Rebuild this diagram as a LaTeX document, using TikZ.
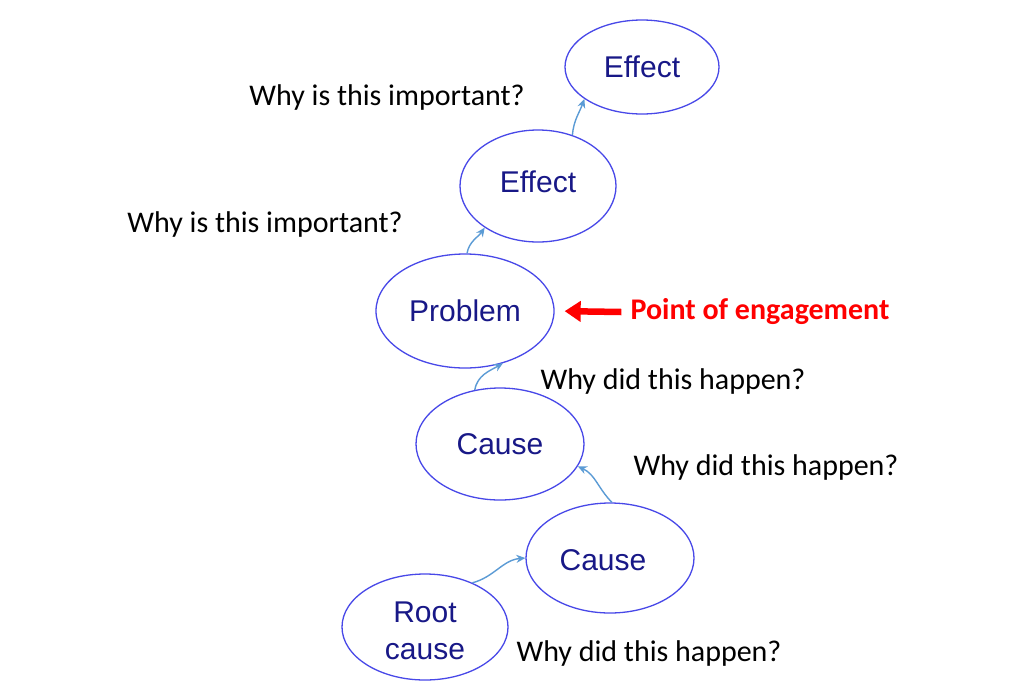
\documentclass[tikz,border=0pt]{standalone}
\usepackage{fontspec}
\setmainfont{Carlito}
\newfontfamily\nodefont{Liberation Sans}
\usetikzlibrary{shapes.geometric,arrows.meta}
\definecolor{ellcol}{RGB}{72,72,232}
\definecolor{txtcol}{RGB}{24,24,135}
\definecolor{arrcol}{RGB}{91,155,213}
\definecolor{redcol}{RGB}{255,0,0}
\tikzset{
  bubble/.style={ellipse, draw=ellcol, line width=1.3pt, inner sep=0pt,
    font=\nodefont\fontsize{30}{32}\selectfont, text=txtcol, align=center},
  question/.style={font=\fontsize{30}{32}\selectfont, text=black, inner sep=0pt},
  link/.style={draw=arrcol, line width=1.4pt, -{Stealth[length=9pt,width=8pt]}},
}
\begin{document}
\begin{tikzpicture}[x=1pt,y=-1pt]
\useasboundingbox (0,0) rectangle (1024,683);
\fill[white] (0,0) rectangle (1024,683);
\node[bubble, minimum width=154pt, minimum height=94pt] (eff1) at (642,67) {Effect};
\node[bubble, minimum width=156pt, minimum height=112pt] (eff2) at (538,186) {\raisebox{4pt}[\height][\depth]{Effect}};
\node[bubble, minimum width=178pt, minimum height=114pt] (prob) at (465,311) {Problem};
\node[bubble, minimum width=168pt, minimum height=112pt] (cause1) at (500,444) {Cause};
\node[bubble, minimum width=168pt, minimum height=110pt] (cause2) at (610,558) {\raisebox{-2.5pt}[\height][\depth]{Cause}\hspace*{14pt}};
\node[bubble, minimum width=166pt, minimum height=106pt] (root) at (425,627) {\rule{0pt}{29pt}Root\\[5pt]cause};

\node[question] (q1) at (387,97) {Why is this important?};
\node[question] (q2) at (265,224) {Why is this important?};
\node[question] (q3) at (673,381) {Why did this happen?};
\node[question] (q4) at (766,467) {Why did this happen?};
\node[question] (q5) at (649,653) {Why did this happen?};
\node[question, text=redcol, font=\bfseries\fontsize{30}{32}\selectfont, inner xsep=9pt] (poe) at (760,312) {Point of engagement};

\draw[link] (root.43) to[out=15, in=185] (cause2.180);
\draw[link] (cause2.88) to[out=135, in=-25] (cause1.-16);
\draw[link] (cause1.115) to[out=80, in=210] (prob.-54);
\draw[link] (prob.88) to[out=80, in=235] (eff2.-142);
\draw[link] (eff2.56) to[out=85, in=250] (eff1.-151);
\draw[redcol, line width=6.5pt, -{Triangle[length=16pt,width=20pt]}, shorten >=10pt] (poe.west) -- (prob.east);
\end{tikzpicture}
\end{document}
